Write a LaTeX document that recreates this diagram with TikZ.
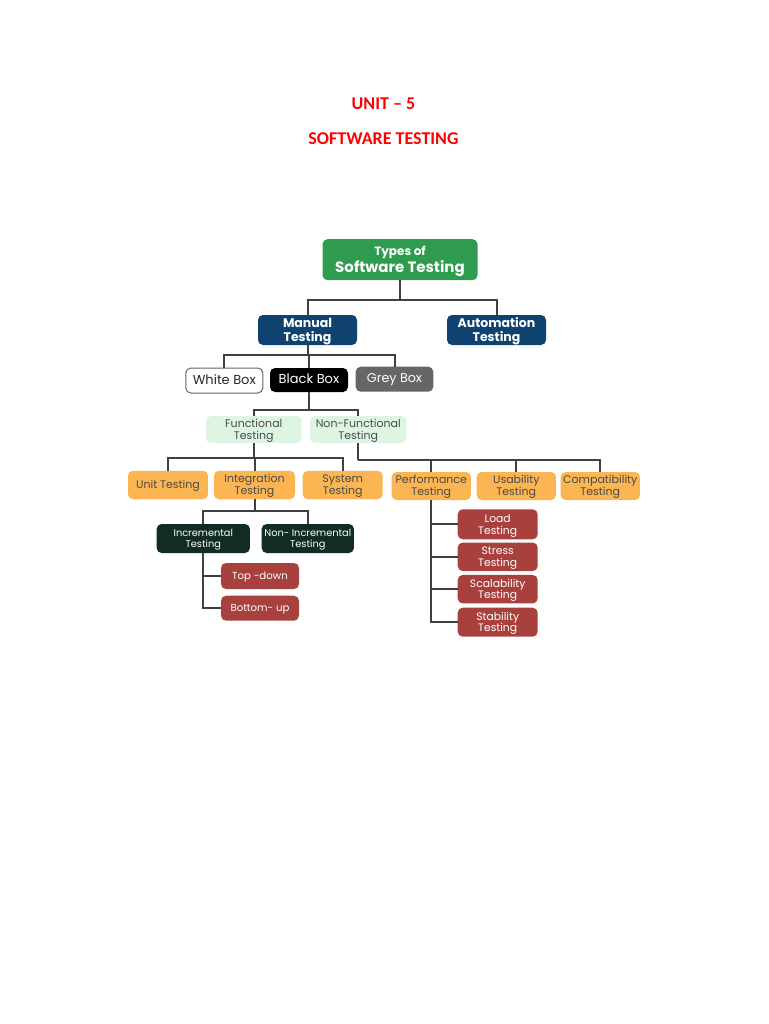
\documentclass[tikz,border=0pt]{standalone}
\usepackage{fontspec}
\setmainfont{Poppins}
\newfontfamily\ttlfont{Carlito}
\definecolor{cgreen}{HTML}{2E9B4E}
\definecolor{cnavy}{HTML}{10426F}
\definecolor{cgrey}{HTML}{666666}
\definecolor{clight}{HTML}{DFF5E3}
\definecolor{corange}{HTML}{FBB552}
\definecolor{cdark}{HTML}{112B25}
\definecolor{cred}{HTML}{A8413E}
\definecolor{cline}{HTML}{404040}
\definecolor{ctxt}{HTML}{4A4A4A}
\definecolor{ctitle}{HTML}{FF0000}
\newcommand\twol[2]{\raisebox{-1.5pt}[\height][\depth]{\begin{tabular}{@{}c@{}}#1\\#2\end{tabular}}}
\tikzset{
  box/.style={rectangle, rounded corners=5pt, inner sep=0pt, font=\fontsize{10}{11}\selectfont},
  oneline/.style={text height=0.7em, text depth=0em},
  navybox/.style={box, fill=cnavy, text=white, font=\fontsize{12.5}{14}\selectfont\bfseries},
  lightbox/.style={box, fill=clight, text=ctxt, font=\fontsize{11}{12}\selectfont},
  orangebox/.style={box, fill=corange, text=ctxt, font=\fontsize{11}{11.8}\selectfont},
  darkbox/.style={box, fill=cdark, text=white, font=\fontsize{9.8}{11}\selectfont},
  redbox/.style={box, fill=cred, text=white, font=\fontsize{10.8}{11.8}\selectfont},
  conn/.style={draw=cline, line width=2pt},
  ttl/.style={text=ctitle, font=\ttlfont\bfseries\fontsize{18}{20}\selectfont}
}
\begin{document}
\begin{tikzpicture}[x=1pt,y=-1pt]
\useasboundingbox (0,0) rectangle (768,1024);
\node[ttl] (t1) at (383.5,103.5) {UNIT – 5};
\node[ttl] (t2) at (383.5,138.5) {SOFTWARE TESTING};

\node[box, fill=cgreen, text=white, minimum width=155pt, minimum height=41pt, font=\fontsize{12}{14.5}\selectfont\bfseries] (root) at (400,259.7)
  {\twol{Types of}{\fontsize{15}{16}\selectfont\bfseries Software Testing}};
\node[navybox, minimum width=99pt, minimum height=30pt] (manual) at (307.5,330) {\twol{Manual}{Testing}};
\node[navybox, minimum width=99pt, minimum height=30pt] (auto) at (496.5,330) {\twol{Automation}{Testing}};

\node[box, oneline, draw=cgrey, line width=1pt, fill=white, text=black!85, minimum width=77pt, minimum height=25pt, font=\fontsize{13}{14}\selectfont] (white) at (224.3,380.5) {White Box};
\node[box, oneline, fill=black, text=white, minimum width=78pt, minimum height=24pt, font=\fontsize{13}{14}\selectfont] (black) at (309,380) {Black Box};
\node[box, oneline, fill=cgrey, text=white, minimum width=77.6pt, minimum height=25pt, font=\fontsize{12.7}{14}\selectfont] (grey) at (394.5,379.2) {Grey Box};

\node[lightbox, minimum width=95.7pt, minimum height=27pt] (func) at (253.8,429.5) {\twol{Functional}{Testing}};
\node[lightbox, minimum width=96.7pt, minimum height=27pt] (nonfunc) at (358.3,429.5) {\twol{Non-Functional}{Testing}};

\node[orangebox, oneline, minimum width=80pt, minimum height=28.5pt] (unit) at (168,485) {Unit Testing};
\node[orangebox, minimum width=81pt, minimum height=28.5pt] (integ) at (254.5,485) {\twol{Integration}{Testing}};
\node[orangebox, minimum width=80pt, minimum height=28.5pt] (system) at (342.7,485) {\twol{System}{Testing}};
\node[orangebox, minimum width=79.3pt, minimum height=28pt] (perf) at (431.3,486) {\twol{Performance}{Testing}};
\node[orangebox, minimum width=79.3pt, minimum height=28pt] (usab) at (516.3,486) {\twol{Usability}{Testing}};
\node[orangebox, minimum width=79.3pt, minimum height=28pt] (compat) at (600.3,486) {\twol{Compatibility}{Testing}};

\node[darkbox, minimum width=93.3pt, minimum height=29pt] (incr) at (203.3,538.5) {\twol{Incremental}{Testing}};
\node[darkbox, minimum width=92.3pt, minimum height=29pt] (nonincr) at (307.8,538.5) {\twol{Non- Incremental}{Testing}};

\node[redbox, oneline, minimum width=78pt, minimum height=26pt, font=\fontsize{10.2}{11}\selectfont] (topdown) at (260,576) {Top -down};
\node[redbox, oneline, minimum width=78pt, minimum height=25pt, font=\fontsize{10.2}{11}\selectfont] (bottomup) at (260,608.2) {Bottom- up};

\node[redbox, minimum width=80pt, minimum height=30pt] (load) at (497.7,524.3) {\twol{Load}{Testing}};
\node[redbox, minimum width=80pt, minimum height=28.5pt] (stress) at (497.7,556.8) {\twol{Stress}{Testing}};
\node[redbox, minimum width=80pt, minimum height=28.5pt] (scal) at (497.7,589.2) {\twol{Scalability}{Testing}};
\node[redbox, minimum width=80pt, minimum height=29pt] (stab) at (497.7,622.2) {\twol{Stability}{Testing}};

\coordinate (b1) at (root.south |- 0,300);
\coordinate (b2) at (manual.south |- 0,354.5);
\coordinate (b3) at (black.south |- 0,410);
\coordinate (b4) at (func.south |- 0,457.7);
\coordinate (b5) at (nonfunc.south |- 0,460);
\coordinate (b6) at (integ.south |- 0,511);

\draw[conn] (root.south) -- (b1);
\draw[conn] (b1) -| (manual.north);
\draw[conn] (b1) -| (auto.north);

\draw[conn] (manual.south) -- (b2);
\draw[conn] (b2) -| (white.north);
\draw[conn] (b2) -| (black.north);
\draw[conn] (b2) -| (grey.north);

\draw[conn] (black.south) -- (b3);
\draw[conn] (b3) -| (func.north);
\draw[conn] (b3) -| (nonfunc.north);

\draw[conn] (func.south) -- (b4);
\draw[conn] (b4) -| (unit.north);
\draw[conn] (b4) -| (integ.north);
\draw[conn] (b4) -| (system.north);

\draw[conn] (nonfunc.south) -- (b5);
\draw[conn] (b5) -| (perf.north);
\draw[conn] (b5) -| (usab.north);
\draw[conn] (b5) -| (compat.north);

\draw[conn] (integ.south) -- (b6);
\draw[conn] (b6) -| (incr.north);
\draw[conn] (b6) -| (nonincr.north);

\draw[conn] (incr.south) |- (topdown.west);
\draw[conn] (incr.south) |- (bottomup.west);

\draw[conn] (perf.south) |- (load.west);
\draw[conn] (perf.south) |- (stress.west);
\draw[conn] (perf.south) |- (scal.west);
\draw[conn] (perf.south) |- (stab.west);
\end{tikzpicture}
\end{document}
